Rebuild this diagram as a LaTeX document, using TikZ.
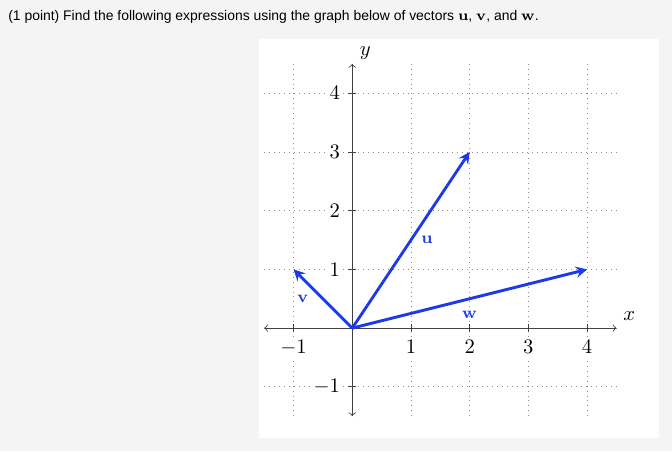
\documentclass[tikz,border=0pt]{standalone}
\usepackage{amsmath}
\usepackage{amssymb}
\usepackage[no-math]{fontspec}
\newfontfamily\titlefont{Liberation Sans}
\usepackage{tikz}
\usetikzlibrary{arrows}
\definecolor{vecblue}{RGB}{28,58,232}
\definecolor{pagegray}{RGB}{244,244,244}
\tikzset{
	vec/.style={->, vecblue, line width=1.4pt},
	veclabel/.style={vecblue, font=\footnotesize},
	ticklabel/.style={fill=white, inner sep=1.5pt}
}

\begin{document}
\begin{tikzpicture}[>=stealth]
	\useasboundingbox[fill=pagegray] (-6.0,-2.095) rectangle (5.446,5.588);
	\fill[white] (-1.589,-1.874) rectangle (5.225,4.923);
	\node[anchor=base west, inner sep=0] (title) at (-5.866,5.238) {\titlefont\fontsize{6.75}{8}\selectfont (1 point) Find the following expressions using the graph below of vectors $\mathbf{u}$, $\mathbf{v}$, and $\mathbf{w}$.};
%	grid and axes
	\draw [black!45, dotted] (-1.5,-1.5) grid (4.5,4.5);
	\draw [to-to, black!75] (-1.5,0) -- (4.5,0);
	\draw [to-to, black!75] (0,-1.5) -- (0,4.5);
	\node (xlabel) at (4.72,0.2) {$x$};
	\node (ylabel) at (0.22,4.68) {$y$};
	\foreach \x in {-1,1,2,3,4} {
		\draw [black!75] (\x,-0.07) -- (\x,0.07);
		\node [ticklabel, anchor=north] (xt\x) at (\x,-0.15) {$\x$};
	}
	\foreach \y in {-1,1,2,3,4} {
		\draw [black!75] (-0.07,\y) -- (0.07,\y);
		\node [ticklabel, anchor=east] (yt\y) at (-0.15,\y) {$\y$};
	}
%	vectors
	\coordinate (O) at (0,0);
	\coordinate (u) at (2,3);
	\coordinate (v) at (-1,1);
	\coordinate (w) at (4,1);
	\draw [vec] (O) -- (u) node [veclabel, pos=0.5, right=1pt] (ulabel) {$\mathbf{u}$};
	\draw [vec] (O) -- (v) node [veclabel, pos=0.5, left=3pt] (vlabel) {$\mathbf{v}$};
	\draw [vec] (O) -- (w) node [veclabel, pos=0.5, below=2pt] (wlabel) {$\mathbf{w}$};
\end{tikzpicture}
\end{document}
